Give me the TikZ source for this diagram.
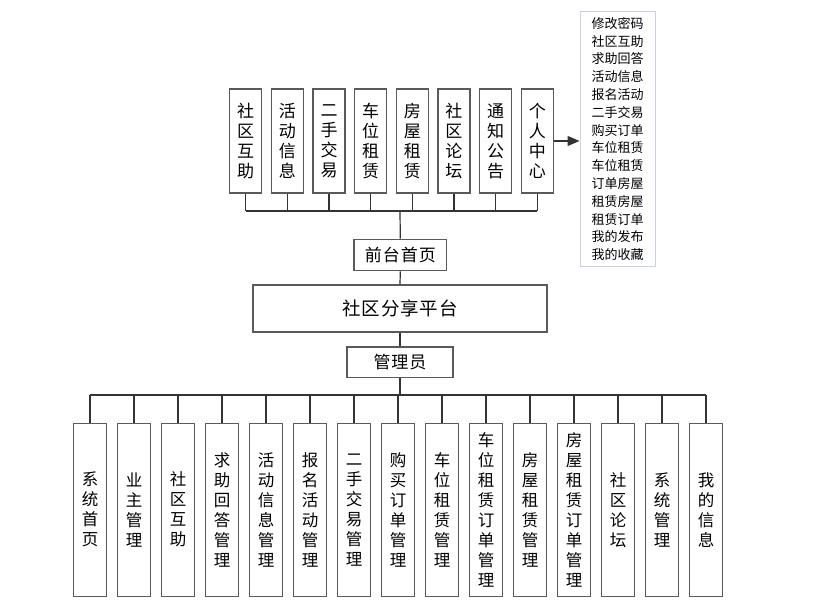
\documentclass[tikz,border=0pt]{standalone}
\usepackage{fontspec}
\setmainfont{Noto Sans CJK SC}
\usetikzlibrary{arrows.meta}
\definecolor{boxline}{HTML}{5A5A5A}
\definecolor{conn}{HTML}{333333}
\definecolor{callline}{HTML}{C9D2E2}
\tikzset{
  vbox/.style={draw=boxline, line width=1.3pt, fill=white, align=center, inner sep=0pt},
  topbox/.style={vbox, minimum width=32pt, minimum height=104pt, font={\fontsize{17}{20}\selectfont}},
  botbox/.style={vbox, minimum width=33.5pt, minimum height=173pt, font={\fontsize{16.5}{20}\selectfont}},
  hbox/.style={draw=boxline, line width=1.3pt, fill=white, inner sep=0pt},
  link/.style={draw=conn, line width=1.2pt},
  callout/.style={draw=callline, line width=1pt, fill=white, align=center, inner sep=0pt,
    minimum width=75pt, minimum height=255pt, font={\fontsize{13}{17.8}\selectfont}}
}
\begin{document}
\begin{tikzpicture}[x=1pt,y=-1pt]
\useasboundingbox[fill=white] (0,0) rectangle (817,604);
% top boxes
\foreach \t [count=\i] in {{社\\区\\互\\助},{活\\动\\信\\息},{二\\手\\交\\易},{车\\位\\租\\赁},{房\\屋\\租\\赁},{社\\区\\论\\坛},{通\\知\\公\\告},{个\\人\\中\\心}}{
  \node[topbox] (t\i) at ({245.7+41.65*(\i-1)},141) {\t};
}
\coordinate (tb) at (400,211);
\node[hbox, minimum width=92.7pt, minimum height=31.4pt,
  font={\fontsize{17}{18}\selectfont\addfontfeature{LetterSpace=6}}] (front) at (400.3,255) {前台首页};
\node[hbox, minimum width=294pt, minimum height=47pt,
  font={\fontsize{18.5}{20}\selectfont\addfontfeature{LetterSpace=5}}] (plat) at (400,308.5) {社区分享平台};
\node[hbox, minimum width=106pt, minimum height=30.3pt,
  font={\fontsize{17}{18}\selectfont\addfontfeature{LetterSpace=5}}] (admin) at (400,362) {管理员};
\coordinate (bb) at (400,395);
% bottom boxes
\foreach \t [count=\i] in {{系\\统\\首\\页},{业\\主\\管\\理},{社\\区\\互\\助},{求\\助\\回\\答\\管\\理},{活\\动\\信\\息\\管\\理},{报\\名\\活\\动\\管\\理},{二\\手\\交\\易\\管\\理},{购\\买\\订\\单\\管\\理},{车\\位\\租\\赁\\管\\理},{车\\位\\租\\赁\\订\\单\\管\\理},{房\\屋\\租\\赁\\管\\理},{房\\屋\\租\\赁\\订\\单\\管\\理},{社\\区\\论\\坛},{系\\统\\管\\理},{我\\的\\信\\息}}{
  \node[botbox] (b\i) at ({90+44*(\i-1)},509.7) {\t};
}
% callout
\node[callout] (co) at (617.5,139) {修改密码\\社区互助\\求助回答\\活动信息\\报名活动\\二手交易\\购买订单\\车位租赁\\车位租赁\\订单房屋\\租赁房屋\\租赁订单\\我的发布\\我的收藏};
% connectors
\foreach \i in {1,...,8}{ \draw[link] (t\i.south) -- (t\i.south |- tb); }
\draw[link] (t1.south |- tb) -- (t8.south |- tb);
\draw[link] (tb) -- (front.north);
\draw[link] (front.south) -- (plat.north);
\draw[link] (plat.south) -- (admin.north);
\draw[link] (admin.south) -- (bb);
\foreach \i in {1,...,15}{ \draw[link] (b\i.north) -- (b\i.north |- bb); }
\draw[link] (b1.north |- bb) -- (b15.north |- bb);
\draw[link, -{Triangle[length=12pt,width=10pt]}] (t8.east) -- (t8.east -| co.west);
\end{tikzpicture}
\end{document}
